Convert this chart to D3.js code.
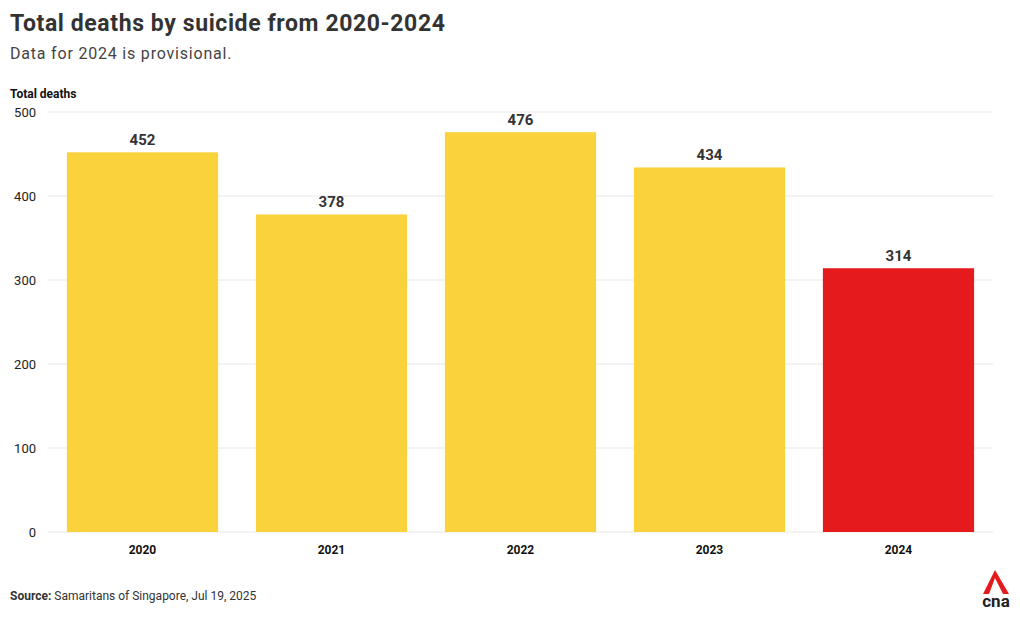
<!DOCTYPE html>
<html><head><meta charset="utf-8">
<script src="https://cdn.jsdelivr.net/npm/d3@7"></script>
<style>body{margin:0;background:#fff;font-family:"Roboto","Noto Sans",sans-serif}</style>
</head><body><svg id="c" width="1020" height="619"></svg>
<script>
const years = ['2020', '2021', '2022', '2023', '2024']
const deaths = [452, 378, 476, 434, 314]
const yTicks = [0, 100, 200, 300, 400, 500]

const svg = d3.select('#c')
const M = { top: 112, right: 27, bottom: 87, left: 48 }
const W = 1020 - M.left - M.right, H = 619 - M.top - M.bottom

svg.append('text').attr('x', 10).attr('y', 31).attr('font-size', 23).attr('font-weight', 700)
  .attr('letter-spacing', 0.6).attr('fill', '#333').text('Total deaths by suicide from 2020-2024')
svg.append('text').attr('x', 10).attr('y', 59).attr('font-size', 16).attr('letter-spacing', 0.8)
  .attr('fill', '#444').text('Data for 2024 is provisional.')
svg.append('text').attr('x', 10).attr('y', 98).attr('font-size', 12).attr('font-weight', 700)
  .attr('fill', '#111').text('Total deaths')

const g = svg.append('g').attr('transform', `translate(${M.left},${M.top})`)
const x = d3.scaleBand().domain(years).range([0, W]).paddingInner(0.2).paddingOuter(0.1)
const y = d3.scaleLinear().domain([0, 500]).range([H, 0])

g.selectAll('.grid').data(yTicks).join('line')
  .attr('x1', 0).attr('x2', W).attr('y1', d => y(d)).attr('y2', d => y(d))
  .attr('stroke', '#e8e8e8')
g.selectAll('.yl').data(yTicks).join('text')
  .attr('x', -12).attr('y', d => y(d)).attr('dy', '0.35em').attr('text-anchor', 'end')
  .attr('font-size', 13).attr('fill', '#222').text(d => d)

g.selectAll('rect').data(deaths).join('rect')
  .attr('x', (d, i) => x(years[i])).attr('width', x.bandwidth())
  .attr('y', d => y(d)).attr('height', d => H - y(d))
  .attr('fill', (d, i) => years[i] === '2024' ? '#e41a1c' : '#fad23c')
g.selectAll('.val').data(deaths).join('text')
  .attr('x', (d, i) => x(years[i]) + x.bandwidth() / 2).attr('y', d => y(d) - 7)
  .attr('text-anchor', 'middle').attr('font-size', 15).attr('font-weight', 700).attr('fill', '#333')
  .text(d => d)
g.selectAll('.xl').data(years).join('text')
  .attr('x', d => x(d) + x.bandwidth() / 2).attr('y', H + 22)
  .attr('text-anchor', 'middle').attr('font-size', 12).attr('font-weight', 700).attr('fill', '#111')
  .text(d => d)

const src = svg.append('text').attr('x', 10).attr('y', 600).attr('font-size', 12).attr('fill', '#333')
src.append('tspan').attr('font-weight', 700).text('Source: ')
src.append('tspan').text('Samaritans of Singapore, Jul 19, 2025')

// cna logo
const logo = svg.append('g').attr('transform', 'translate(983,570)')
logo.append('path').attr('d', 'M0,24 L12,0 L26,24 L20,24 L12,8 L6,24 Z').attr('fill', '#e41a1c')
logo.append('text').attr('x', 13).attr('y', 37).attr('text-anchor', 'middle')
  .attr('font-size', 17).attr('font-weight', 700).attr('fill', '#222').text('cna')
</script></body></html>
